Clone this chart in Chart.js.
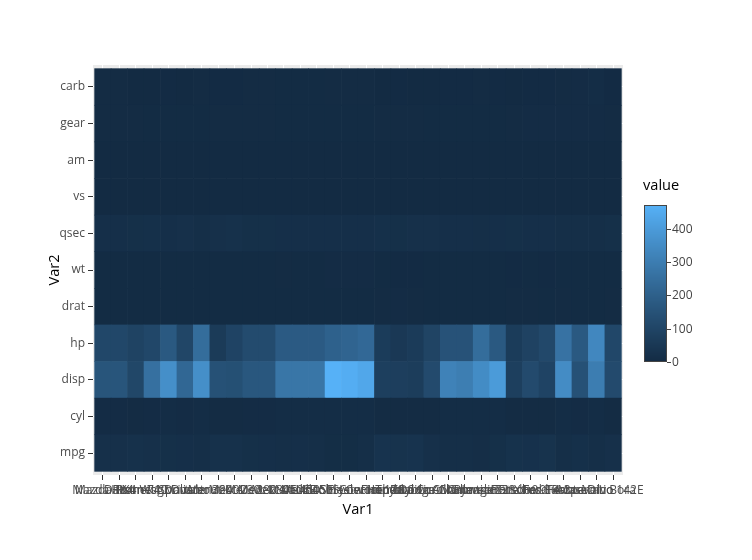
<!DOCTYPE html>
<html lang="en">
  <head>
    <meta charset="UTF-8" />
    <title>mtcars heatmap</title>
    <script src="https://cdn.jsdelivr.net/npm/chart.js"></script>
    <style>
      body { margin: 0; background: #fff; }
      #wrap { width: 752px; height: 560px; }
    </style>
  </head>

  <body>
    <div id="wrap"><canvas id="heat"></canvas></div>

    <script>
      const cars = ["Mazda RX4", "Mazda RX4 Wag", "Datsun 710", "Hornet 4 Drive", "Hornet Sportabout", "Valiant", "Duster 360", "Merc 240D", "Merc 230", "Merc 280", "Merc 280C", "Merc 450SE", "Merc 450SL", "Merc 450SLC", "Cadillac Fleetwood", "Lincoln Continental", "Chrysler Imperial", "Fiat 128", "Honda Civic", "Toyota Corolla", "Toyota Corona", "Dodge Challenger", "AMC Javelin", "Camaro Z28", "Pontiac Firebird", "Fiat X1-9", "Porsche 914-2", "Lotus Europa", "Ford Pantera L", "Ferrari Dino", "Maserati Bora", "Volvo 142E"];
      const vars = ["mpg", "cyl", "disp", "hp", "drat", "wt", "qsec", "vs", "am", "gear", "carb"];

      const mpg = [21, 21, 22.8, 21.4, 18.7, 18.1, 14.3, 24.4, 22.8, 19.2, 17.8, 16.4, 17.3, 15.2, 10.4, 10.4, 14.7, 32.4, 30.4, 33.9, 21.5, 15.5, 15.2, 13.3, 19.2, 27.3, 26, 30.4, 15.8, 19.7, 15, 21.4];
      const cyl = [6, 6, 4, 6, 8, 6, 8, 4, 4, 6, 6, 8, 8, 8, 8, 8, 8, 4, 4, 4, 4, 8, 8, 8, 8, 4, 4, 4, 8, 6, 8, 4];
      const disp = [160, 160, 108, 258, 360, 225, 360, 146.7, 140.8, 167.6, 167.6, 275.8, 275.8, 275.8, 472, 460, 440, 78.7, 75.7, 71.1, 120.1, 318, 304, 350, 400, 79, 120.3, 95.1, 351, 145, 301, 121];
      const hp = [110, 110, 93, 110, 175, 105, 245, 62, 95, 123, 123, 180, 180, 180, 205, 215, 230, 66, 52, 65, 97, 150, 150, 245, 175, 66, 91, 113, 264, 175, 335, 109];
      const drat = [3.9, 3.9, 3.85, 3.08, 3.15, 2.76, 3.21, 3.69, 3.92, 3.92, 3.92, 3.07, 3.07, 3.07, 2.93, 3, 3.23, 4.08, 4.93, 4.22, 3.7, 2.76, 3.15, 3.73, 3.08, 4.08, 4.43, 3.77, 4.22, 3.62, 3.54, 4.11];
      const wt = [2.62, 2.875, 2.32, 3.215, 3.44, 3.46, 3.57, 3.19, 3.15, 3.44, 3.44, 4.07, 3.73, 3.78, 5.25, 5.424, 5.345, 2.2, 1.615, 1.835, 2.465, 3.52, 3.435, 3.84, 3.845, 1.935, 2.14, 1.513, 3.17, 2.77, 3.57, 2.78];
      const qsec = [16.46, 17.02, 18.61, 19.44, 17.02, 20.22, 15.84, 20, 22.9, 18.3, 18.9, 17.4, 17.6, 18, 17.98, 17.82, 17.42, 19.47, 18.52, 19.9, 20.01, 16.87, 17.3, 15.41, 17.05, 18.9, 16.7, 16.9, 14.5, 15.5, 14.6, 18.6];
      const vs = [0, 0, 1, 1, 0, 1, 0, 1, 1, 1, 1, 0, 0, 0, 0, 0, 0, 1, 1, 1, 1, 0, 0, 0, 0, 1, 0, 1, 0, 0, 0, 1];
      const am = [1, 1, 1, 0, 0, 0, 0, 0, 0, 0, 0, 0, 0, 0, 0, 0, 0, 1, 1, 1, 0, 0, 0, 0, 0, 1, 1, 1, 1, 1, 1, 1];
      const gear = [4, 4, 4, 3, 3, 3, 3, 4, 4, 4, 4, 3, 3, 3, 3, 3, 3, 4, 4, 4, 3, 3, 3, 3, 3, 4, 5, 5, 5, 5, 5, 4];
      const carb = [4, 4, 1, 1, 2, 1, 4, 2, 2, 4, 4, 3, 3, 3, 4, 4, 4, 1, 2, 1, 1, 2, 2, 4, 2, 1, 2, 2, 4, 6, 8, 2];

      const colorbarTicks = [0, 100, 200, 300, 400];

      const rows = [mpg, cyl, disp, hp, drat, wt, qsec, vs, am, gear, carb];
      const vmin = 0;
      const vmax = Math.max(...rows.flat());

      // gradient #132B43 -> #56B1F7, interpolated in Lab like ggplot
      function toLab(hex) {
        let rgb = [1, 3, 5].map((i) => parseInt(hex.substr(i, 2), 16) / 255);
        rgb = rgb.map((c) => (c > 0.04045 ? Math.pow((c + 0.055) / 1.055, 2.4) : c / 12.92));
        const [r, g, b] = rgb;
        let x = (r * 0.4124 + g * 0.3576 + b * 0.1805) / 0.95047;
        let y = r * 0.2126 + g * 0.7152 + b * 0.0722;
        let z = (r * 0.0193 + g * 0.1192 + b * 0.9505) / 1.08883;
        const f = (t) => (t > 0.008856 ? Math.cbrt(t) : 7.787 * t + 16 / 116);
        x = f(x); y = f(y); z = f(z);
        return [116 * y - 16, 500 * (x - y), 200 * (y - z)];
      }
      function fromLab([L, A, B]) {
        let y = (L + 16) / 116;
        let x = A / 500 + y;
        let z = y - B / 200;
        const fi = (t) => (t * t * t > 0.008856 ? t * t * t : (t - 16 / 116) / 7.787);
        x = fi(x) * 0.95047; y = fi(y); z = fi(z) * 1.08883;
        let r = x * 3.2406 + y * -1.5372 + z * -0.4986;
        let g = x * -0.9689 + y * 1.8758 + z * 0.0415;
        let b = x * 0.0557 + y * -0.204 + z * 1.057;
        const gam = (c) => (c > 0.0031308 ? 1.055 * Math.pow(c, 1 / 2.4) - 0.055 : 12.92 * c);
        return "rgb(" + [r, g, b].map((c) => Math.round(Math.min(1, Math.max(0, gam(c))) * 255)).join(",") + ")";
      }
      const lowLab = toLab("#132B43");
      const highLab = toLab("#56B1F7");
      function fillColor(v) {
        const t = (v - vmin) / (vmax - vmin);
        return fromLab(lowLab.map((l, i) => l + (highLab[i] - l) * t));
      }

      const datasets = vars.map((name, k) => ({
        label: name,
        data: rows[k].map((v, i) => ({ x: i, y: [k - 0.5, k + 0.5] })),
        backgroundColor: rows[k].map(fillColor),
        borderWidth: 0,
        barPercentage: 1,
        categoryPercentage: 1,
        grouped: false,
      }));

      const panelBg = {
        id: "panelBg",
        beforeDraw(chart) {
          const { ctx, chartArea: a } = chart;
          ctx.save();
          ctx.fillStyle = "#EBEBEB";
          ctx.fillRect(a.left, a.top, a.right - a.left, a.bottom - a.top);
          ctx.restore();
        },
      };

      const colorbar = {
        id: "colorbar",
        afterDraw(chart) {
          const ctx = chart.ctx;
          const x0 = 644, w = 23, top = 205, bottom = 362;
          const toY = (v) => bottom - ((v - vmin) / (vmax - vmin)) * (bottom - top);
          ctx.save();
          for (let y = top; y < bottom; y++) {
            const v = vmin + ((bottom - y - 0.5) / (bottom - top)) * (vmax - vmin);
            ctx.fillStyle = fillColor(v);
            ctx.fillRect(x0, y, w, 1);
          }
          ctx.strokeStyle = "#444";
          ctx.lineWidth = 1;
          ctx.strokeRect(x0 + 0.5, top + 0.5, w - 1, bottom - top - 1);
          ctx.font = "12px 'Open Sans'";
          ctx.fillStyle = "#444";
          ctx.textBaseline = "middle";
          ctx.textAlign = "left";
          colorbarTicks.forEach((t) => {
            const y = Math.round(toY(t)) + 0.5;
            ctx.beginPath();
            ctx.moveTo(x0 + w, y);
            ctx.lineTo(x0 + w + 4, y);
            ctx.stroke();
            ctx.fillText(String(t), x0 + w + 5, y);
          });
          ctx.font = "14.6px 'Open Sans'";
          ctx.fillStyle = "#000";
          ctx.fillText("value", 643, 186);
          ctx.restore();
        },
      };

      new Chart(document.getElementById("heat"), {
        type: "bar",
        data: { datasets },
        options: {
          responsive: true,
          maintainAspectRatio: false,
          animation: false,
          layout: { padding: { top: 65, right: 129, left: 0, bottom: 0 } },
          plugins: { legend: { display: false }, tooltip: { enabled: false } },
          scales: {
            x: {
              type: "linear",
              offset: false,
              min: -0.6,
              max: cars.length - 0.4,
              afterBuildTicks: (s) => { s.ticks = cars.map((_, i) => ({ value: i })); },
              afterFit: (s) => { s.height = 85; },
              ticks: {
                autoSkip: false,
                maxRotation: 0,
                minRotation: 0,
                padding: 3,
                color: "#4D4D4D",
                font: { family: "'Open Sans'", size: 12 },
                callback: (v) => cars[v],
              },
              grid: { offset: false, color: "#fff", tickColor: "#333", tickLength: 5, lineWidth: 1 },
              border: { display: false },
              title: {
                display: true,
                text: "Var1",
                color: "#000",
                font: { family: "'Open Sans'", size: 14.6 },
                padding: { top: 0, bottom: 41 },
              },
            },
            y: {
              type: "linear",
              min: -0.6,
              max: vars.length - 0.4,
              afterBuildTicks: (s) => { s.ticks = vars.map((_, k) => ({ value: k })); },
              afterFit: (s) => { s.width = 93; },
              ticks: {
                padding: 3,
                color: "#4D4D4D",
                font: { family: "'Open Sans'", size: 12 },
                callback: (v) => vars[v],
              },
              grid: { color: "#fff", tickColor: "#333", tickLength: 5, lineWidth: 1 },
              border: { display: false },
              title: {
                display: true,
                text: "Var2",
                color: "#000",
                font: { family: "'Open Sans'", size: 14.6 },
                padding: { top: 46, bottom: 0 },
              },
            },
          },
        },
        plugins: [panelBg, colorbar],
      });
    </script>
  </body>
</html>
